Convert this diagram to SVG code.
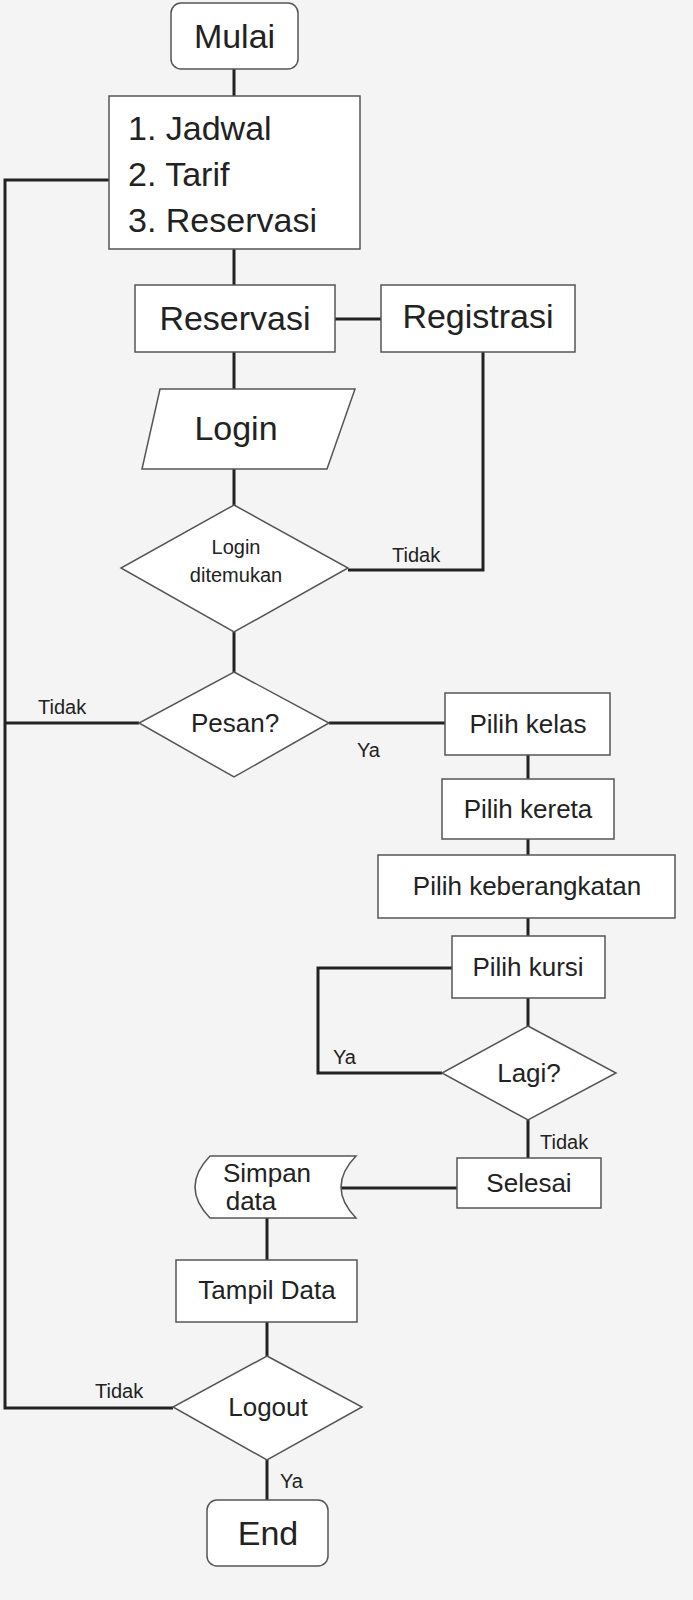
<svg xmlns="http://www.w3.org/2000/svg" width="693" height="1600" viewBox="0 0 693 1600">
<style>
.s{fill:#fff;stroke:#555;stroke-width:1.5}
.c{fill:none;stroke:#222;stroke-width:3}
text{font-family:"Liberation Sans",Arial,sans-serif;fill:#222}
.b{font-size:34px}
.m{font-size:26px}
.l{font-size:20px}
</style>
<rect width="693" height="1600" fill="#f4f4f4"/>
<g id="connectors">
<path class="c" d="M234,69V96M109,180H5V1408H173M234,249V285M335,319H381M234,352V389M234,469V505M348,570H483V352M234,632V672M5,723H139M329,723H445M528,755V779M528,839V855M528,918V936M528,998V1026M442,1073H318V968H452M528,1120V1158M340,1188H457M267,1218V1260M267,1322V1356M267,1460V1500"/>
<text class="l" x="392" y="562">Tidak</text>
<text class="l" x="38" y="714">Tidak</text>
<text class="l" x="357" y="757">Ya</text>
<text class="l" x="333" y="1064">Ya</text>
<text class="l" x="540" y="1149">Tidak</text>
<text class="l" x="95" y="1398">Tidak</text>
<text class="l" x="280" y="1488">Ya</text>
</g>
<g id="mulai"><rect class="s" x="171" y="3" width="127" height="66" rx="10"/><text class="b" x="234.5" y="48" text-anchor="middle">Mulai</text></g>
<g id="menu"><rect class="s" x="109" y="96" width="251" height="153"/><text class="b" x="128" y="140">1. Jadwal</text><text class="b" x="128" y="186">2. Tarif</text><text class="b" x="128" y="232">3. Reservasi</text></g>
<g id="reservasi"><rect class="s" x="135" y="285" width="200" height="67"/><text class="b" x="235" y="330" text-anchor="middle">Reservasi</text></g>
<g id="registrasi"><rect class="s" x="381" y="285" width="194" height="67"/><text class="b" x="478" y="328" text-anchor="middle">Registrasi</text></g>
<g id="login"><polygon class="s" points="160,389 355,389 327,469 142,469"/><text class="b" x="236" y="440" text-anchor="middle">Login</text></g>
<g id="ditemukan"><polygon class="s" points="234,505 348,568 234,632 121,568"/><text class="l" x="236" y="554" text-anchor="middle">Login</text><text class="l" x="236" y="582" text-anchor="middle">ditemukan</text></g>
<g id="pesan"><polygon class="s" points="234,672 329,723 234,777 139,723"/><text class="m" x="235" y="732" text-anchor="middle">Pesan?</text></g>
<g id="kelas"><rect class="s" x="445" y="693" width="165" height="62"/><text class="m" x="528" y="733" text-anchor="middle">Pilih kelas</text></g>
<g id="kereta"><rect class="s" x="442" y="779" width="172" height="60"/><text class="m" x="528" y="818" text-anchor="middle">Pilih kereta</text></g>
<g id="keberangkatan"><rect class="s" x="378" y="855" width="297" height="63"/><text class="m" x="527" y="895" text-anchor="middle">Pilih keberangkatan</text></g>
<g id="kursi"><rect class="s" x="452" y="936" width="153" height="62"/><text class="m" x="528" y="976" text-anchor="middle">Pilih kursi</text></g>
<g id="lagi"><polygon class="s" points="528,1026 616,1073 528,1120 442,1073"/><text class="m" x="529" y="1082" text-anchor="middle">Lagi?</text></g>
<g id="selesai"><rect class="s" x="457" y="1158" width="144" height="50"/><text class="m" x="529" y="1192" text-anchor="middle">Selesai</text></g>
<g id="simpan"><path class="s" d="M210,1156H356Q326,1187 356,1218H210Q180,1187 210,1156Z"/><text class="m" x="267" y="1182" text-anchor="middle">Simpan</text><text class="m" x="251" y="1210" text-anchor="middle">data</text></g>
<g id="tampil"><rect class="s" x="176" y="1260" width="181" height="62"/><text class="m" x="267" y="1299" text-anchor="middle">Tampil Data</text></g>
<g id="logout"><polygon class="s" points="267,1356 362,1407 267,1460 173,1407"/><text class="m" x="268" y="1416" text-anchor="middle">Logout</text></g>
<g id="end"><rect class="s" x="207" y="1500" width="121" height="66" rx="10"/><text class="b" x="268" y="1545" text-anchor="middle">End</text></g>
</svg>
